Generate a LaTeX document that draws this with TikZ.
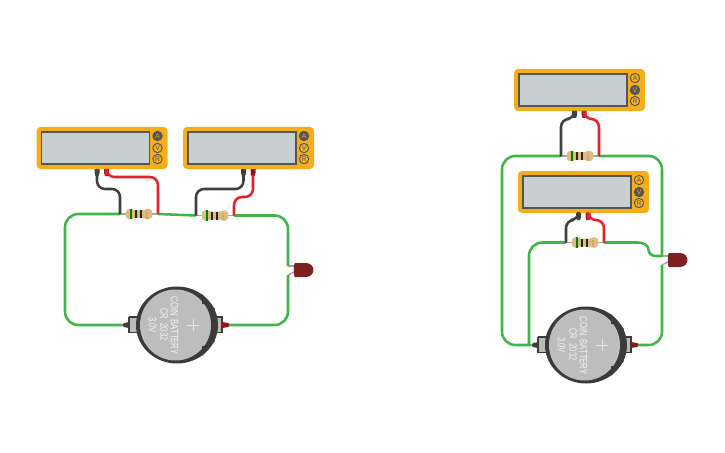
\documentclass[tikz,border=0pt]{standalone}
\usepackage{fontspec}
\setsansfont{Liberation Sans}
\usepackage{xcolor}
\definecolor{wiregreen}{HTML}{3FB54A}
\definecolor{wirered}{HTML}{E3222B}
\definecolor{wireblack}{HTML}{404040}
\definecolor{meterbody}{HTML}{F4AE1C}
\definecolor{meterscreen}{HTML}{C7CFD1}
\definecolor{metergrey}{HTML}{555555}
\definecolor{restan}{HTML}{DCBC82}
\definecolor{ledred}{HTML}{7F2020}
\definecolor{cellgrey}{HTML}{BDBDBD}
\definecolor{celldark}{HTML}{3B3B3B}
\tikzset{%
	greenwire/.style = {draw=wiregreen, line width=1.9pt, rounded corners=10pt},
	redwire/.style   = {draw=wirered, line width=1.9pt, rounded corners=6pt},
	blackwire/.style = {draw=wireblack, line width=1.9pt, rounded corners=6pt},
	btnoff/.style    = {draw=metergrey, line width=0.7pt, text=metergrey},
	btnon/.style     = {draw=metergrey, fill=metergrey, line width=0.7pt, text=meterbody},
	btn/.style       = {circle, inner sep=0pt, minimum size=7pt, font=\sffamily\fontsize{5}{5}\selectfont},
	celltext/.style  = {rotate=-90, xscale=0.72, text=white!80!cellgrey, inner sep=0pt, font=\sffamily\fontsize{8}{8}\selectfont},
	pics/meter/.style 2 args = {code={
		\fill[meterbody] (0,0) [rounded corners=3pt] rectangle (131,42);
		\draw[draw=metergrey, fill=meterscreen, line width=1.3pt] (5,5) rectangle (113,37);
		\node[btn,#1] (-a) at (121,9) {A};
		\node[btn,#2] (-v) at (121,21) {V};
		\node[btn,btnoff] (-r) at (121,32) {R};
		\fill[wireblack] (58,42) -- (63,42) -- (63,46) -- (62,49) -- (59,49) -- (58,46) -- cycle;
		\fill[wirered!65!black] (67.5,42) -- (72.5,42) -- (72.5,46) -- (71.5,49) -- (68.5,49) -- (67.5,46) -- cycle;
		\coordinate (-blk) at (60.5,48);
		\coordinate (-red) at (70,48);
	}},
	pics/resistor/.style = {code={
		\draw[gray!70, line width=1.2pt] (-19,0) -- (-12,0) (12,0) -- (19,0);
		\fill[restan] (-13.5,0) .. controls (-13.5,-6.5) and (-8,-6) .. (-5,-4) -- (5,-4) .. controls (8,-6) and (13.5,-6.5) .. (13.5,0) .. controls (13.5,6.5) and (8,6) .. (5,4) -- (-5,4) .. controls (-8,6) and (-13.5,6.5) .. (-13.5,0) -- cycle;
		\fill[green!50!black] (-9.5,-5.2) rectangle (-7,5.2);
		\fill[black!85] (-4.5,-4) rectangle (-2,4);
		\fill[black!85] (0.5,-4) rectangle (3,4);
		\fill[restan!70!brown] (7.2,-3) rectangle (9,4.5);
		\coordinate (-l) at (-19,0);
		\coordinate (-r) at (19,0);
	}},
	pics/led/.style = {code={
		\draw[gray!70, line width=1.1pt] (0,0) -- (6,0);
		\draw[gray!70, line width=1.1pt] (0,9) -- (6,6);
		\fill[ledred] (7,-3) -- (18,-3) .. controls (23,-3) and (25.5,1) .. (25.5,4) .. controls (25.5,7) and (23,11) .. (18,11) -- (7,11) .. controls (5.5,11) and (5.5,-3) .. (7,-3) -- cycle;
		\coordinate (-a) at (0,0);
		\coordinate (-c) at (0,9);
	}},
	pics/cell/.style = {code={
		\fill[gray!55] (-48,-8) rectangle (-36,7.5);
		\draw[celldark, line width=0.9pt] (-48,-8) -- (-48,7.5) -- (-38,7.5) (-48,-8) -- (-38,-8);
		\fill[gray!55] (36,-8) rectangle (45,7.5);
		\draw[celldark, line width=0.9pt] (36,-8) -- (45,-8) -- (45,7.5) -- (36,7.5);
		\fill[celldark] (0,0) ellipse (41 and 38.5);
		\fill[cellgrey] (-1.5,0) circle (35.5);
		\fill[celldark] (25,-31) -- (25,-21) -- (31,-21) -- (35,-12) -- (38,-16) -- cycle;
		\fill[celldark] (25,31) -- (25,21) -- (31,21) -- (35,12) -- (38,16) -- cycle;
		\draw[white!60!cellgrey, line width=0.4pt] (16,-6) -- (16,6) (10,0) -- (22,0);
		\node[celltext] (-t1) at (-2.5,0.5) {COIN\hspace{2pt} BATTERY};
		\node[celltext] (-t2) at (-13,-0.5) {CR\hspace{2pt} 2032};
		\node[celltext] (-t3) at (-24.5,0) {3.0V};
		\fill[wireblack] (-48,-3) -- (-48,3) -- (-53,2) -- (-55,0) -- (-53,-2) -- cycle;
		\fill[wirered!65!black] (45,-3) -- (45,3) -- (51,2) -- (53,0) -- (51,-2) -- cycle;
		\coordinate (-neg) at (-55,0);
		\coordinate (-pos) at (52,0);
	}},
}
\begin{document}
\begin{tikzpicture}[x=0.75pt,y=-0.75pt]
	\useasboundingbox (0,0) rectangle (725,453);
	\pic (mA) at (36.5,127) {meter={btnon}{btnoff}};
	\pic (mB) at (183,127) {meter={btnon}{btnoff}};
	\pic (rA) at (139,214) {resistor};
	\pic (rB) at (215,215.5) {resistor};
	\pic (ledL) at (288,266) {led};
	\pic (cellL) at (177,325) {cell};
	\coordinate (cornerA) at (65,270);
	\draw[greenwire] (rA-l) -| (cornerA) |- (cellL-neg);
	\draw[greenwire] (rB-r) -| (ledL-a);
	\draw[greenwire] (cellL-pos) -| (ledL-c);
	\draw[greenwire] (rA-r) -- (rB-l);
	\coordinate (blkA) at (120,189);
	\coordinate (redA) at (158,177);
	\draw[blackwire] (mA-blk) |- (blkA) -- (rA-l);
	\draw[redwire] (mA-red) |- (redA) -- (rA-r);
	\coordinate (blkB) at (196,189);
	\coordinate (redB) at (234,197);
	\draw[blackwire] (mB-blk) |- (blkB) -- (rB-l);
	\draw[redwire] (mB-red) |- (redB) -- (rB-r);

	\pic (mC) at (514,69) {meter={btnoff}{btnon}};
	\pic (mD) at (518,171) {meter={btnoff}{btnon}};
	\pic (rC) at (580,156) {resistor};
	\pic (rD) at (585,242.5) {resistor};
	\pic (ledR) at (662,256) {led};
	\pic (cellR) at (586,345) {cell};
	\coordinate (cornerC) at (502,250);
	\coordinate (teeD) at (529,345);
	\draw[greenwire] (rC-l) -| (cornerC) |- (cellR-neg);
	\draw[greenwire] (rC-r) -| (ledR-a);
	\draw[greenwire] (cellR-pos) -| (ledR-c);
	\draw[greenwire] (rD-l) -| (teeD);
	\coordinate (stepA) at (638,242.5);
	\coordinate (stepB) at (648.5,250);
	\coordinate (stepC) at (656,256);
	\draw[greenwire,sharp corners] (rD-r) -- (stepA) to[out=0,in=90] (stepB) to[out=-90,in=180] (stepC) -- (ledR-a);
	\coordinate (blkC) at (574.5,119);
	\coordinate (redC) at (584,119);
	\draw[blackwire] (mC-blk) -- (blkC) -| (rC-l);
	\draw[redwire] (mC-red) -- (redC) -| (rC-r);
	\coordinate (blkD) at (578.5,220);
	\coordinate (redD) at (588,220);
	\draw[blackwire] (mD-blk) -- (blkD) -| (rD-l);
	\draw[redwire] (mD-red) -- (redD) -| (rD-r);
\end{tikzpicture}
\end{document}
